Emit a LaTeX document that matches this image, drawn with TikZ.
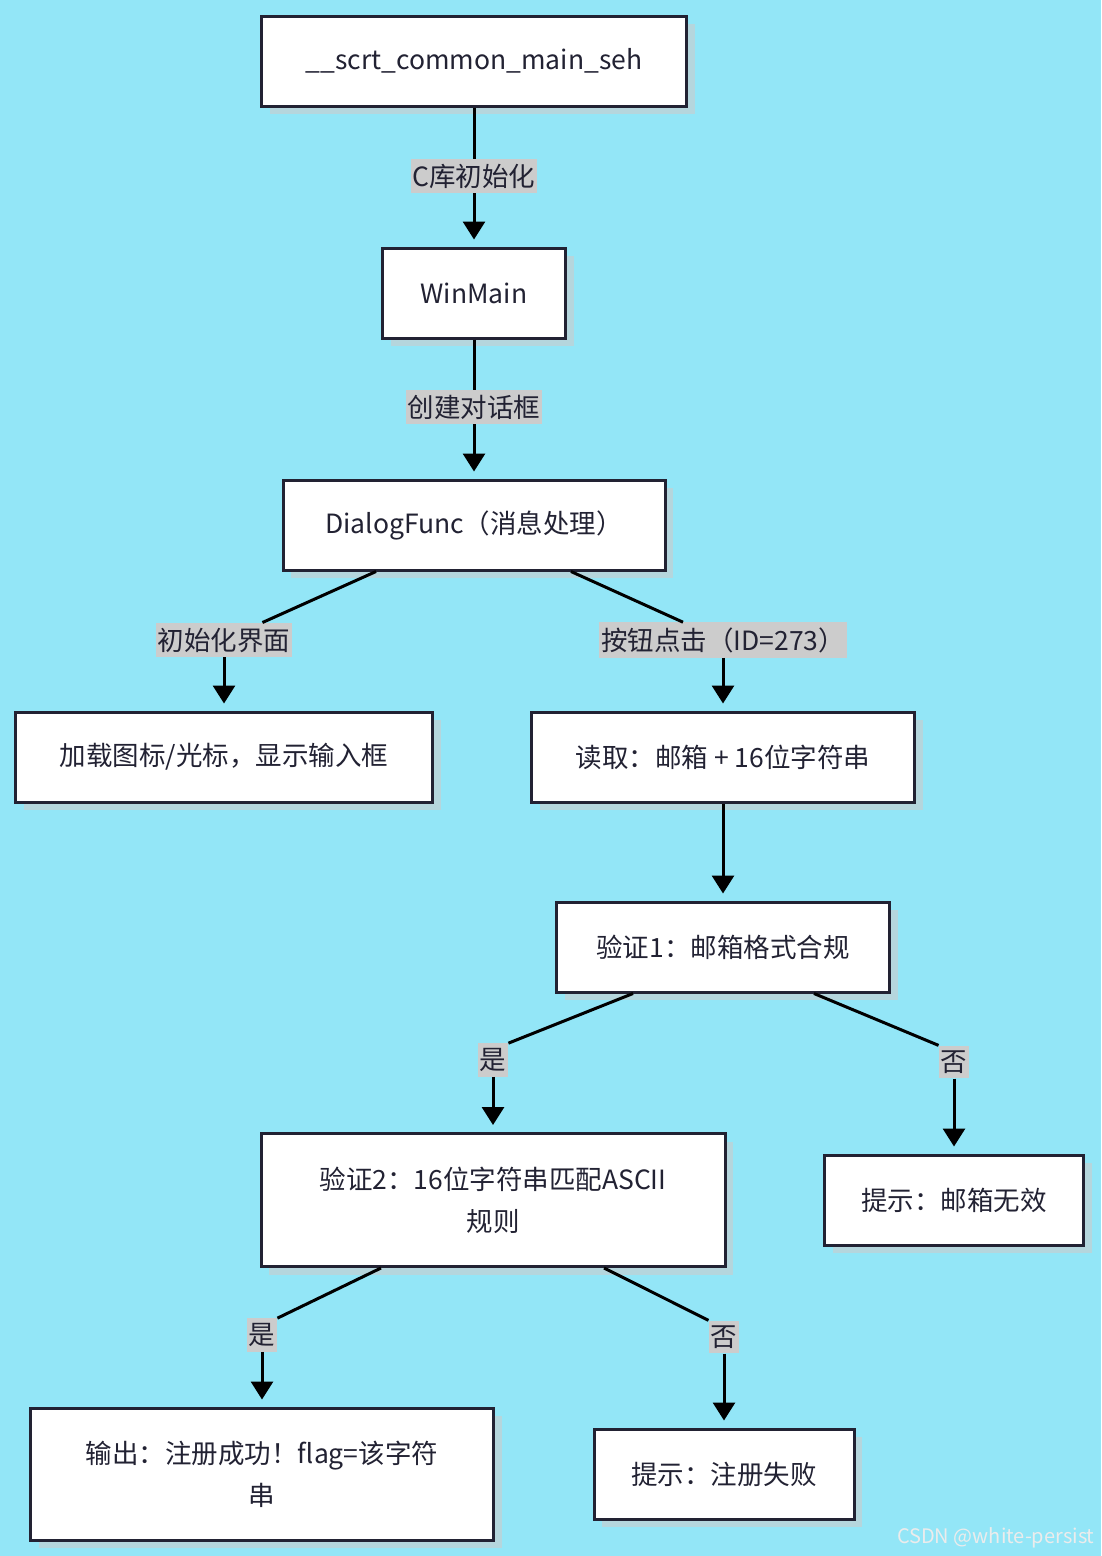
\documentclass[tikz,border=0pt]{standalone}
\usepackage{fontspec}
\setmainfont{Noto Sans CJK SC}
\usetikzlibrary{arrows.meta,calc,shadows}
\definecolor{bg}{HTML}{93E6F7}
\definecolor{bd}{HTML}{222233}
\definecolor{lb}{HTML}{CCCCCC}
\begin{document}
\begin{tikzpicture}[x=1pt,y=-1pt,
 box/.style={draw=bd,line width=3pt,fill=white,minimum height=90pt,align=center,font=\fontsize{26.5}{42}\selectfont,text=bd,
   drop shadow={shadow xshift=8pt,shadow yshift=-8pt,fill=gray!40,opacity=0.6}},
 lab/.style={fill=lb,inner xsep=2pt,inner ysep=5pt,font=\fontsize{26.5}{30}\selectfont,text=bd},
 ln/.style={draw=black,line width=3pt},
 arr/.style={ln,-{Triangle[length=18pt,width=22pt]},shorten >=7pt}]
\fill[bg] (0,0) rectangle (1101,1556);
\useasboundingbox (0,0) rectangle (1101,1556);
\node[box,minimum width=425pt] (A) at (474,61) {\_\_scrt\_common\_main\_seh};
\node[box,minimum width=183pt] (B) at (474,293) {WinMain};
\node[box,minimum width=382pt] (C) at (474,525) {DialogFunc（消息处理）};
\node[box,minimum width=417pt] (D) at (224,757) {加载图标/光标，显示输入框};
\node[box,minimum width=383pt] (E) at (723,757) {读取：邮箱 + 16位字符串};
\node[box,minimum width=333pt] (F) at (723,947) {验证1：邮箱格式合规};
\node[box,minimum width=464pt,minimum height=133pt] (G) at (493,1200) {验证2：16位字符串匹配ASCII\\规则};
\node[box,minimum width=259pt] (H) at (954,1200) {提示：邮箱无效};
\node[box,minimum width=463pt,minimum height=132pt] (I) at (262,1474) {输出：注册成功！flag=该字符\\串};
\node[box,minimum width=260pt] (J) at (724,1474) {提示：注册失败};
\node[lab] (l1) at (474,176) {C库初始化};
\node[lab] (l2) at (474,407) {创建对话框};
\node[lab] (l3) at (224,640) {初始化界面};
\node[lab] (l4) at (723,640) {按钮点击（ID=273）};
\node[lab] (l5) at (493,1060) {是};
\node[lab] (l6) at (954,1062) {否};
\node[lab] (l7) at (262,1335) {是};
\node[lab] (l8) at (724,1337) {否};
\draw[ln] (A.south) -- (l1.north);
\draw[arr] (l1.south) -- (B.north);
\draw[ln] (B.south) -- (l2.north);
\draw[arr] (l2.south) -- (C.north);
\draw[ln] ($(C.south)+(-98,0)$) -- ($(l3.north east)+(-30,0)$);
\draw[arr] (l3.south) -- (D.north);
\draw[ln] ($(C.south)+(97,0)$) -- ($(l4.north)+(-40,0)$);
\draw[arr] (l4.south) -- (E.north);
\draw[arr] (E.south) -- (F.north);
\draw[ln] ($(F.south)+(-90,0)$) -- (l5.north east);
\draw[arr] (l5.south) -- (G.north);
\draw[ln] ($(F.south)+(91,0)$) -- (l6.north west);
\draw[arr] (l6.south) -- (H.north);
\draw[ln] ($(G.south)+(-112,0)$) -- (l7.north east);
\draw[arr] (l7.south) -- (I.north);
\draw[ln] ($(G.south)+(111,0)$) -- (l8.north west);
\draw[arr] (l8.south) -- (J.north);
\node[font=\fontsize{20}{22}\selectfont,text=white!85!gray,anchor=south east] (wm) at (1098,1552) {CSDN @white-persist};
\end{tikzpicture}
\end{document}
